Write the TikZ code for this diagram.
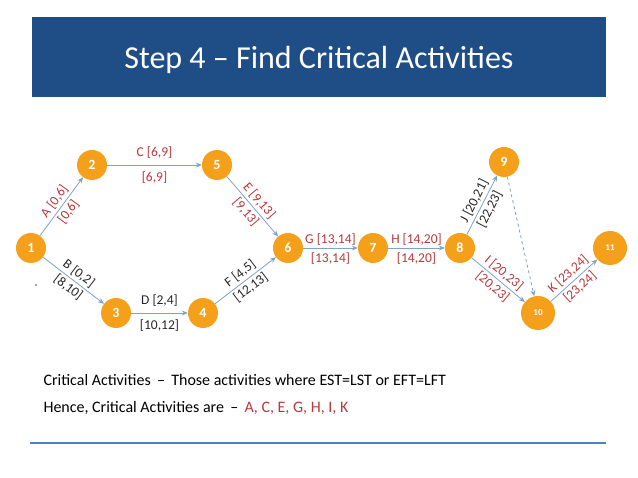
\documentclass[tikz,border=0pt]{standalone}
\usepackage{fontspec}
\setmainfont{Carlito}
\usetikzlibrary{arrows.meta}
\definecolor{tblue}{HTML}{1F4E86}
\definecolor{lblue}{HTML}{4F81BD}
\definecolor{eblue}{HTML}{7FA3C8}
\definecolor{nor}{HTML}{F5A01A}
\definecolor{lred}{HTML}{B8383B}
\begin{document}
\begin{tikzpicture}[x=1pt,y=-1pt,
  ev/.style={circle,fill=nor,text=white,font=\bfseries\fontsize{14}{15}\selectfont,minimum size=30pt,inner sep=0pt},
  act/.style={draw=eblue,line width=0.8pt,-{Stealth[length=6pt,width=5pt]}},
  lb/.style={font=\fontsize{13.5}{15}\selectfont,sloped,inner sep=2.5pt},
  rd/.style={lb,text=lred},
  bk/.style={lb,text=black!85}]
\useasboundingbox (0,0) rectangle (638,478);
\fill[white] (0,0) rectangle (638,478);
\fill[tblue] (32,17) rectangle (606,97);
\node[text=white,font=\fontsize{32}{35}\selectfont] (title) at (319,60) {Step 4 – Find Critical Activities};
\node[ev] (n1) at (31,248) {1};
\node[ev] (n2) at (92,165) {2};
\node[ev] (n5) at (217,165) {5};
\node[ev] (n6) at (288,248) {6};
\node[ev] (n3) at (116,313) {3};
\node[ev] (n4) at (203,313) {4};
\node[ev] (n7) at (373,248) {7};
\node[ev] (n8) at (460,248) {8};
\node[ev] (n9) at (504,162) {9};
\node[ev,minimum width=34pt,minimum height=29pt,font=\bfseries\fontsize{9}{10}\selectfont] (n10) at (538,313) {10};
\node[ev,minimum width=34pt,minimum height=29pt,font=\bfseries\fontsize{9}{10}\selectfont] (n11) at (610,248) {11};
\draw[act] (n1) -- node[rd,above]{A [0,6]} node[rd,below]{[0,6]} (n2);
\draw[act] (n2) -- node[rd,above,yshift=4pt]{C [6,9]} node[rd,below,yshift=-4pt]{[6,9]} (n5);
\draw[act] (n5) -- node[rd,above]{E [9,13]} node[rd,below]{[9,13]} (n6);
\draw[act] (n1) -- node[bk,above]{B [0,2]} node[bk,below]{[8,10]} (n3);
\draw[act] (n3) -- node[bk,above,yshift=4pt]{D [2,4]} node[bk,below,yshift=-4pt]{[10,12]} (n4);
\draw[act] (n4) -- node[bk,above]{F [4,5]} node[bk,below]{[12,13]} (n6);
\draw[act] (n6) -- node[rd,above]{G [13,14]} node[rd,below,yshift=-2pt]{[13,14]} (n7);
\draw[act] (n7) -- node[rd,above]{H [14,20]} node[rd,below,yshift=-2pt]{[14,20]} (n8);
\draw[act] (n8) -- node[bk,above]{J [20,21]} node[bk,below]{[22,23]} (n9);
\draw[act] (n8) -- node[rd,above]{I [20,23]} node[rd,below]{[20,23]} (n10);
\draw[act] (n10) -- node[rd,above]{K [23,24]} node[rd,below]{[23,24]} (n11);
\draw[act,dashed] (n9) -- (n10);
\fill[black!70] (36,285) circle (0.8pt);
\node[anchor=west,font=\fontsize{16}{18}\selectfont] (t1) at (40,380) {Critical Activities \,–\, Those activities where EST=LST or EFT=LFT};
\node[anchor=west,font=\fontsize{16}{18}\selectfont] (t2) at (40,408) {Hence, Critical Activities are \,–\, \textcolor{lred}{A, C, E, G, H, I, K}};
\draw[lblue,line width=1.5pt] (30,443) -- (606,443);
\end{tikzpicture}
\end{document}
